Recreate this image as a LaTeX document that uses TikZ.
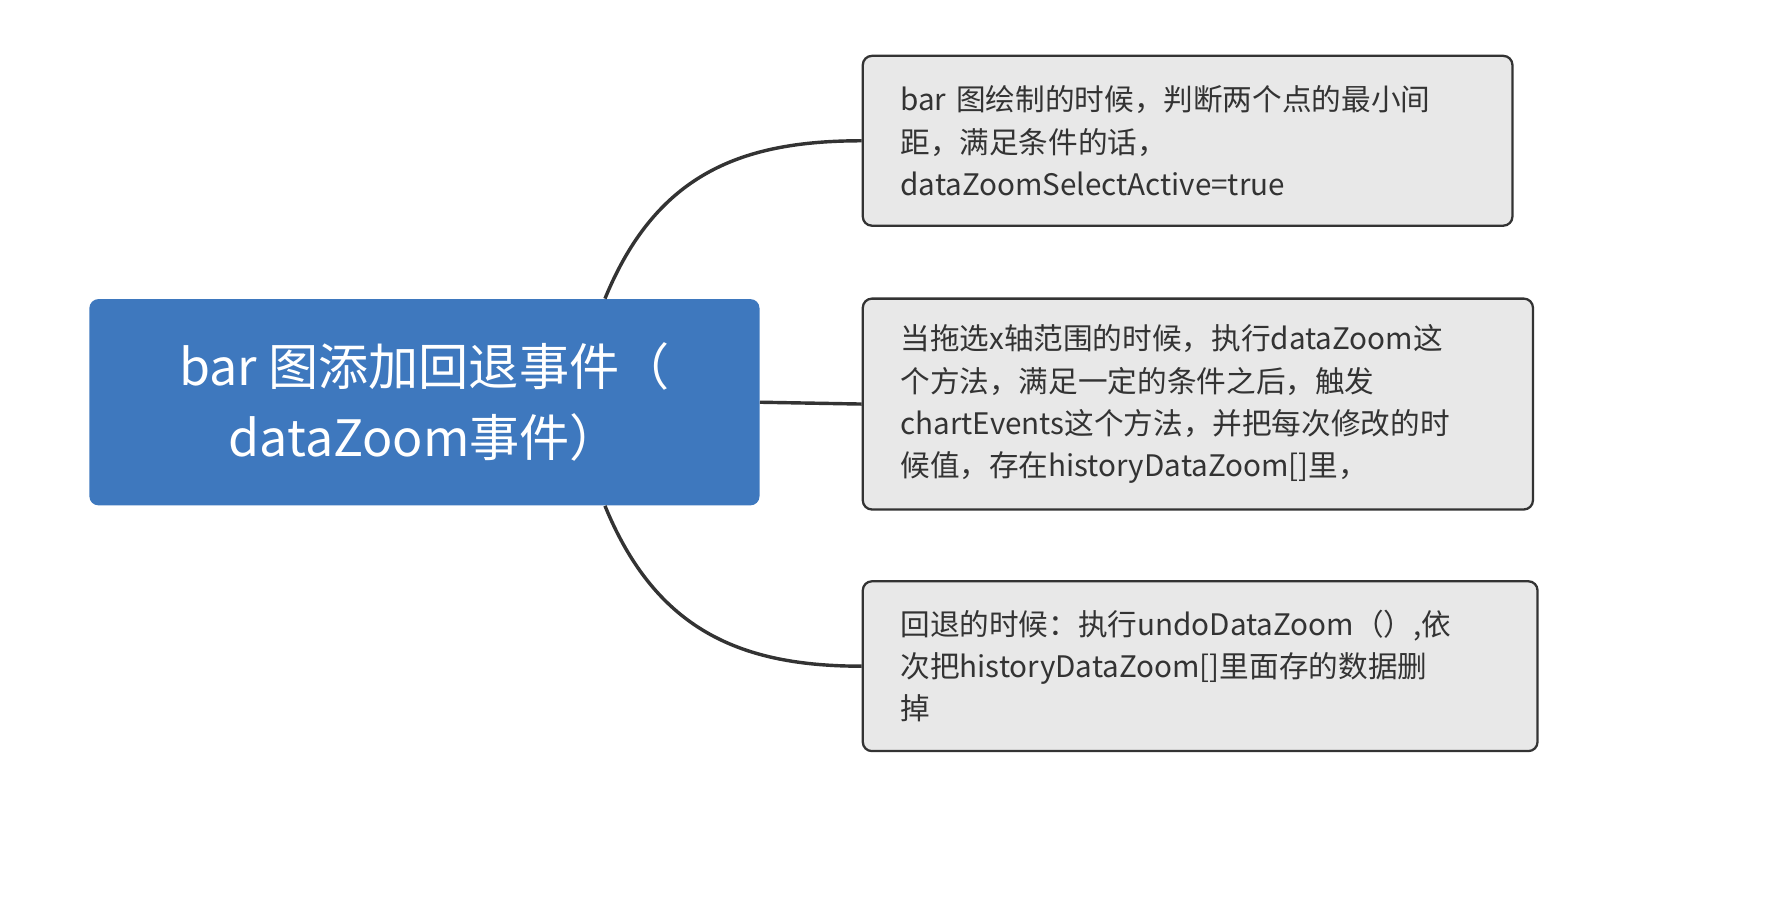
\documentclass[tikz,border=0pt]{standalone}
\usepackage{fontspec}
\setmainfont{Noto Sans CJK SC}
\begin{document}
\begin{tikzpicture}[x=0.5pt,y=-0.5pt,
  sub/.style={draw=black!80,line width=1pt,fill=black!9,rounded corners=4pt,anchor=north west,
    inner xsep=16.5pt,inner ysep=0pt,align=left,text=black!80,font=\fontsize{13pt}{18.5pt}\selectfont},
  root/.style={fill=blue!35!cyan!20!black!0,fill={rgb,255:red,62;green,120;blue,190},rounded corners=4pt,anchor=north west,
    inner sep=0pt,align=center,text=white,font=\fontsize{22pt}{31pt}\selectfont},
  link/.style={draw=black!80,line width=1.5pt}]
\useasboundingbox (0,0) rectangle (1560,789.6);
\node[root,minimum width=294pt,minimum height=90.5pt] (m) at (78,262) {bar 图添加回退事件（\\dataZoom事件）};
\node[sub,minimum width=285pt,minimum height=74.5pt,text width=252pt] (a) at (756,48)
  {bar 图绘制的时候，判断两个点的最小间\\距，满足条件的话，\\dataZoomSelectActive=true};
\node[sub,minimum width=294pt,minimum height=92.5pt,text width=261pt] (b) at (756,261)
  {当拖选x轴范围的时候，执行dataZoom这\\个方法，满足一定的条件之后，触发\\chartEvents这个方法，并把每次修改的时\\候值，存在historyDataZoom[]里，};
\node[sub,minimum width=296pt,minimum height=74.5pt,text width=263pt] (c) at (756,509)
  {回退的时候：执行undoDataZoom（）,依\\次把historyDataZoom[]里面存的数据删\\掉};
\coordinate (mt) at ([xshift=-68pt]m.north east);
\coordinate (mb) at ([xshift=-68pt]m.south east);
\draw[link] (mt) .. controls ([shift={(45,-110)}]mt) and ([shift={(-105,0)}]a.west) .. (a.west);
\draw[link] (m.east) -- (b.west);
\draw[link] (mb) .. controls ([shift={(45,110)}]mb) and ([shift={(-105,0)}]c.west) .. (c.west);
\end{tikzpicture}
\end{document}
